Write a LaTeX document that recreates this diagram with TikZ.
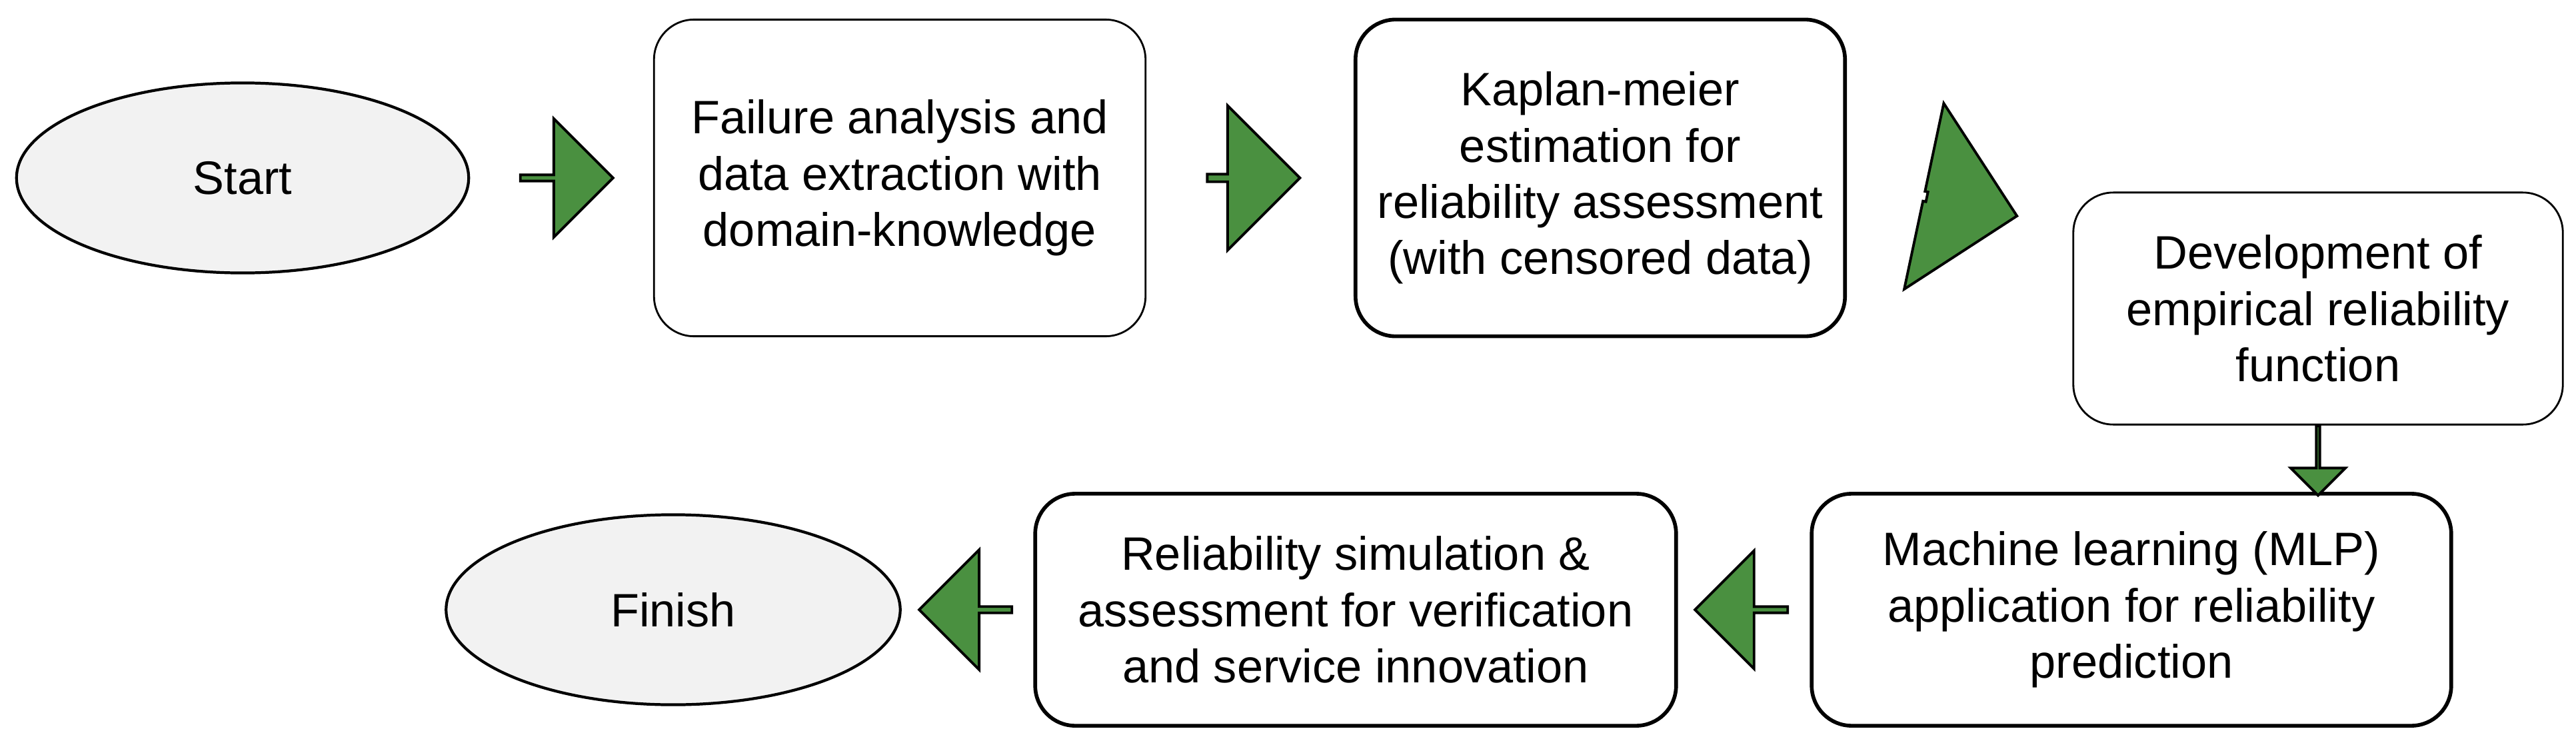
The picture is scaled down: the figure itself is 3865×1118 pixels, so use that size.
\documentclass[tikz,border=0pt]{standalone}
\usepackage{fontspec}
\setmainfont{Liberation Sans}
\usetikzlibrary{shapes.geometric,shapes.arrows}
\definecolor{agreen}{HTML}{4A9040}
\definecolor{egray}{HTML}{F2F2F2}
\begin{document}
\begin{tikzpicture}[x=0.01cm,y=-0.01cm,
  txt/.style={font=\fontsize{20}{24}\selectfont,align=center},
  box/.style={txt,draw,rounded corners=0.6cm,inner sep=0pt},
  thin/.style={line width=0.8pt},
  thick/.style={line width=1.6pt},
  ell/.style={txt,ellipse,draw,fill=egray,line width=1.2pt,inner sep=0pt},
  blk/.style={single arrow,draw=black,fill=agreen,line width=1.1pt,inner sep=0pt,
    single arrow head indent=0pt}]
\useasboundingbox (0,0) rectangle (3865,1118);
\node[ell,minimum width=6.78cm,minimum height=2.85cm] (start) at (364,267) {Start};
\node[box,thin,minimum width=7.37cm,minimum height=4.75cm] (b1) at (1350,267)
  {Failure analysis and\\data extraction with\\domain-knowledge};
\node[box,thick,minimum width=7.34cm,minimum height=4.75cm] (b2) at (2401,267)
  {Kaplan-meier\\estimation for\\reliability assessment\\(with censored data)};
\node[box,thin,minimum width=7.34cm,minimum height=3.48cm] (b3) at (3478,463)
  {Development of\\empirical reliability\\function};
\node[box,thick,minimum width=9.59cm,minimum height=3.48cm] (b4) at (3198,915)
  {Machine learning (MLP)\\application for reliability\\prediction};
\node[box,thick,minimum width=9.61cm,minimum height=3.48cm] (b5) at (2034,915)
  {Reliability simulation \&\\assessment for verification\\and service innovation};
\node[ell,minimum width=6.81cm,minimum height=2.85cm] (finish) at (1010,915) {Finish};
% block arrows
\node[blk,minimum width=1.78cm,minimum height=1.39cm,single arrow head extend=0.35cm] (a1) at (848,267) {};
\node[blk,minimum width=2.17cm,minimum height=1.39cm,single arrow head extend=0.35cm] (a2) at (1878,267) {};
\node[blk,rotate=-12,minimum width=2.85cm,minimum height=1.38cm,single arrow head extend=0.35cm] (a3) at (2955,309) {};
\node[blk,rotate=-90,minimum width=0.82cm,minimum height=1.04cm,single arrow head extend=0.28cm] (a4) at (3478,690) {};
\node[blk,rotate=180,minimum width=1.77cm,minimum height=1.39cm,single arrow head extend=0.35cm] (a5) at (2615,915) {};
\node[blk,rotate=180,minimum width=1.80cm,minimum height=1.39cm,single arrow head extend=0.35cm] (a6) at (1451,915) {};
\end{tikzpicture}
\end{document}
